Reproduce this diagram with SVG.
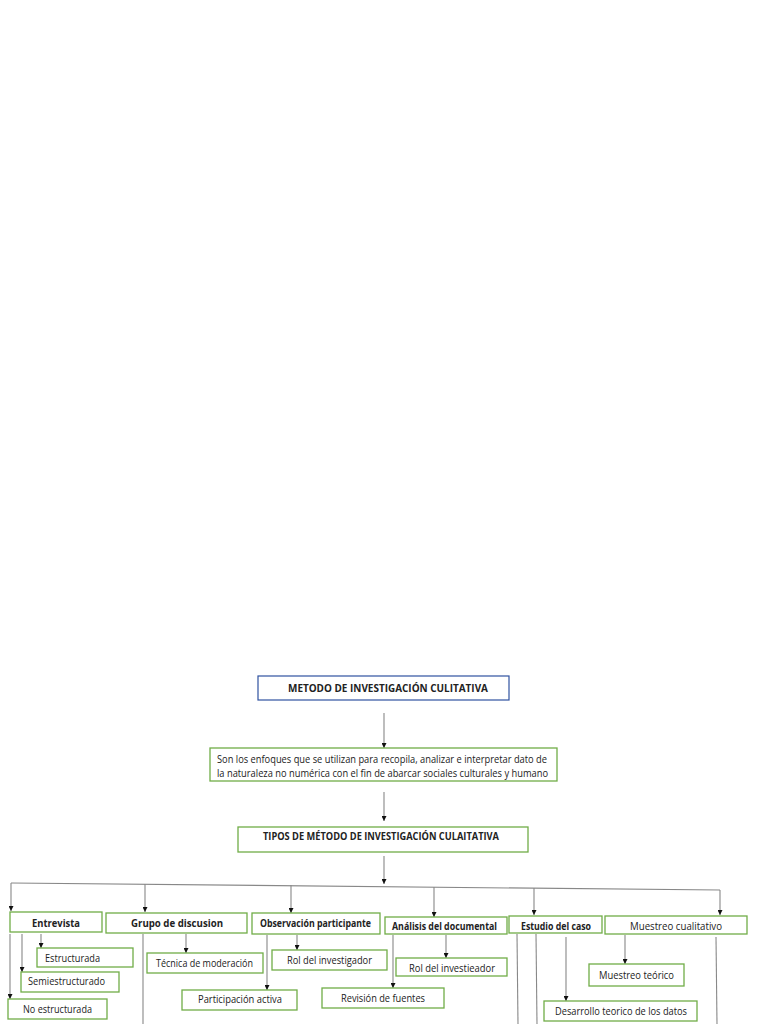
<svg xmlns="http://www.w3.org/2000/svg" width="768" height="1024" viewBox="0 0 768 1024">
<defs>
<marker id="ah" viewBox="0 0 10 10" refX="10" refY="5" markerWidth="5" markerHeight="5" orient="auto" markerUnits="userSpaceOnUse">
<path d="M0,0 L10,5 L0,10 z" fill="#111"/>
</marker>
<style>
.box{fill:#fff;stroke:#70ad47;stroke-width:1.3}
.blue{fill:#fff;stroke:#2f52a0;stroke-width:1.2}
.t{font-family:"Open Sans","Liberation Sans",sans-serif;font-size:10px;fill:#222;text-anchor:start}
.b{font-weight:bold}
.c{fill:none;stroke:#888;stroke-width:1.1}
.a{fill:none;stroke:#888;stroke-width:1.1;marker-end:url(#ah)}
</style>
</defs>
<rect width="768" height="1024" fill="#fff"/>
<g id="connectors">
<line class="a" x1="384" y1="713" x2="384" y2="748"/>
<line class="a" x1="384" y1="792" x2="384" y2="821"/>
<line class="a" x1="384" y1="856" x2="384" y2="884"/>
<polyline class="c" points="11,883 720,890"/>
<line class="a" x1="11" y1="883" x2="11" y2="911"/>
<line class="a" x1="145" y1="884" x2="145" y2="912"/>
<line class="a" x1="291" y1="885" x2="291" y2="913"/>
<line class="a" x1="434" y1="887" x2="434" y2="917"/>
<line class="a" x1="534" y1="888" x2="534" y2="915"/>
<line class="a" x1="720" y1="890" x2="720" y2="915"/>
<line class="a" x1="41" y1="934" x2="41" y2="948"/>
<line class="a" x1="22" y1="934" x2="22" y2="972"/>
<line class="a" x1="10" y1="934" x2="10" y2="999"/>
<line class="c" x1="143" y1="934" x2="143" y2="1024"/>
<line class="a" x1="186" y1="934" x2="186" y2="953"/>
<line class="a" x1="267" y1="935" x2="267" y2="990"/>
<line class="a" x1="297" y1="935" x2="297" y2="950"/>
<line class="a" x1="446" y1="935" x2="446" y2="958"/>
<line class="a" x1="393" y1="935" x2="393" y2="988"/>
<line class="c" x1="517" y1="934" x2="518" y2="1024"/>
<line class="c" x1="536" y1="934" x2="537" y2="1024"/>
<line class="a" x1="566" y1="937" x2="566" y2="1001"/>
<line class="a" x1="625" y1="935" x2="625" y2="964"/>
<line class="c" x1="716" y1="937" x2="717" y2="1024"/>
</g>
<g id="n-title"><rect class="blue" x="258" y="676" width="251" height="24"/><text class="t b" x="288" y="692" textLength="200" lengthAdjust="spacingAndGlyphs">METODO DE INVESTIGACIÓN CULITATIVA</text></g>
<g id="n-desc"><rect class="box" x="210" y="748" width="347" height="33"/>
<text class="t" x="217" y="763" textLength="330" lengthAdjust="spacingAndGlyphs">Son los enfoques que se utilizan para recopila, analizar e interpretar dato de</text>
<text class="t" x="217" y="777" textLength="331" lengthAdjust="spacingAndGlyphs">la naturaleza no numérica con el fin de abarcar sociales culturales y humano</text></g>
<g id="n-tipos"><rect class="box" x="238" y="827" width="290" height="25"/><text class="t b" x="263" y="840" textLength="236" lengthAdjust="spacingAndGlyphs">TIPOS DE MÉTODO DE INVESTIGACIÓN CULAITATIVA</text></g>
<g id="n-entrevista"><rect class="box" x="10" y="912" width="92" height="20"/><text class="t b" x="32" y="927" style="font-size:11px" textLength="48" lengthAdjust="spacingAndGlyphs">Entrevista</text></g>
<g id="n-grupo"><rect class="box" x="106" y="913" width="141" height="20"/><text class="t b" x="131" y="927" style="font-size:11px" textLength="92" lengthAdjust="spacingAndGlyphs">Grupo de discusion</text></g>
<g id="n-obs"><rect class="box" x="252" y="913" width="128" height="21"/><text class="t b" x="260" y="927" textLength="111" lengthAdjust="spacingAndGlyphs">Observación participante</text></g>
<g id="n-analisis"><rect class="box" x="385" y="917" width="122" height="17"/><text class="t b" x="392" y="930" textLength="105" lengthAdjust="spacingAndGlyphs">Análisis del documental</text></g>
<g id="n-estudio"><rect class="box" x="509" y="916" width="93" height="17"/><text class="t b" x="521" y="930" textLength="70" lengthAdjust="spacingAndGlyphs">Estudio del caso</text></g>
<g id="n-muestreo"><rect class="box" x="605" y="916" width="142" height="18"/><text class="t" x="630" y="930" textLength="92" lengthAdjust="spacingAndGlyphs">Muestreo  cualitativo</text></g>
<g id="n-estructurada"><rect class="box" x="37" y="948" width="96" height="19"/><text class="t" x="45" y="962" textLength="55" lengthAdjust="spacingAndGlyphs">Estructurada</text></g>
<g id="n-semi"><rect class="box" x="21" y="972" width="98" height="20"/><text class="t" x="28" y="985" textLength="77" lengthAdjust="spacingAndGlyphs">Semiestructurado</text></g>
<g id="n-noestr"><rect class="box" x="8" y="999" width="99" height="20"/><text class="t" x="23" y="1013" textLength="69" lengthAdjust="spacingAndGlyphs">No estructurada</text></g>
<g id="n-tecnica"><rect class="box" x="147" y="953" width="116" height="20"/><text class="t" x="156" y="967" textLength="97" lengthAdjust="spacingAndGlyphs">Técnica de moderación</text></g>
<g id="n-particip"><rect class="box" x="182" y="990" width="115" height="20"/><text class="t" x="198" y="1003" textLength="84" lengthAdjust="spacingAndGlyphs">Participación activa</text></g>
<g id="n-rol1"><rect class="box" x="272" y="950" width="115" height="20"/><text class="t" x="287" y="964" textLength="85" lengthAdjust="spacingAndGlyphs">Rol del investigador</text></g>
<g id="n-rol2"><rect class="box" x="396" y="958" width="111" height="18"/><text class="t" x="409" y="972" textLength="86" lengthAdjust="spacingAndGlyphs">Rol del investieador</text></g>
<g id="n-revision"><rect class="box" x="322" y="988" width="122" height="20"/><text class="t" x="341" y="1002" textLength="84" lengthAdjust="spacingAndGlyphs">Revisión de fuentes</text></g>
<g id="n-mteorico"><rect class="box" x="589" y="964" width="95" height="22"/><text class="t" x="599" y="979" textLength="75" lengthAdjust="spacingAndGlyphs">Muestreo teórico</text></g>
<g id="n-desarrollo"><rect class="box" x="544" y="1001" width="153" height="20"/><text class="t" x="555" y="1015" textLength="132" lengthAdjust="spacingAndGlyphs">Desarrollo teorico de los datos</text></g>
</svg>
